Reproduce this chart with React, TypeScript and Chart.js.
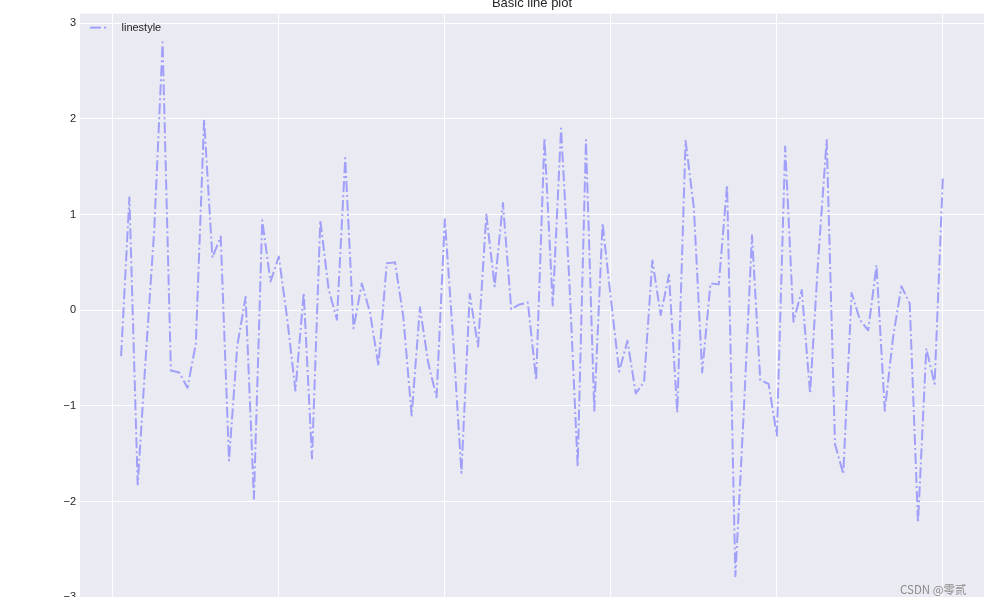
import React, { useEffect, useRef } from "react";
import { Chart, registerables } from "chart.js";

Chart.register(...registerables);

const titleText = "Basic line plot";
const seriesLabel = "linestyle";
const watermarkText = "CSDN @零贰";

const xValues = [
  1, 2, 3, 4, 5, 6, 7, 8, 9, 10,
  11, 12, 13, 14, 15, 16, 17, 18, 19, 20,
  21, 22, 23, 24, 25, 26, 27, 28, 29, 30,
  31, 32, 33, 34, 35, 36, 37, 38, 39, 40,
  41, 42, 43, 44, 45, 46, 47, 48, 49, 50,
  51, 52, 53, 54, 55, 56, 57, 58, 59, 60,
  61, 62, 63, 64, 65, 66, 67, 68, 69, 70,
  71, 72, 73, 74, 75, 76, 77, 78, 79, 80,
  81, 82, 83, 84, 85, 86, 87, 88, 89, 90,
  91, 92, 93, 94, 95, 96, 97, 98, 99, 100,
];

const yValues = [
  -0.48, 1.18, -1.82, -0.45, 0.85, 2.8, -0.63, -0.65, -0.81, -0.35,
  1.99, 0.55, 0.77, -1.57, -0.37, 0.14, -1.97, 0.94, 0.3, 0.56,
  -0.08, -0.84, 0.18, -1.55, 0.94, 0.22, -0.1, 1.59, -0.19, 0.28,
  -0.03, -0.58, 0.49, 0.5, -0.07, -1.1, 0.03, -0.55, -0.91, 0.95,
  -0.3, -1.7, 0.17, -0.38, 1.0, 0.25, 1.12, 0.01, 0.06, 0.08,
  -0.73, 1.8, 0.05, 1.9, 0.3, -1.63, 1.78, -1.05, 0.91, 0.12,
  -0.64, -0.32, -0.87, -0.75, 0.52, -0.05, 0.37, -1.07, 1.77, 1.07,
  -0.65, 0.28, 0.27, 1.31, -2.78, -1.08, 0.78, -0.73, -0.77, -1.31,
  1.71, -0.12, 0.21, -0.87, 0.56, 1.78, -1.4, -1.71, 0.18, -0.1,
  -0.21, 0.47, -1.05, -0.28, 0.25, 0.07, -2.22, -0.4, -0.77, 1.4,
];

const xTicks = [0, 20, 40, 60, 80, 100];
const yTicks = [-3, -2, -1, 0, 1, 2, 3];

const FONT = "'Liberation Sans', Arial, 'DejaVu Sans', sans-serif";
const LINE_COLOR = "#a0a0fa";
const TEXT_COLOR = "#262626";
const BG_COLOR = "#eaeaf2";
const DASH = [11, 3, 2, 3];
const LINE_WIDTH = 2;

const bgPlugin = {
  id: "axesBackground",
  beforeDraw(chart: any) {
    const { ctx, chartArea } = chart;
    if (!chartArea) return;
    ctx.save();
    ctx.fillStyle = BG_COLOR;
    ctx.fillRect(chartArea.left, chartArea.top, chartArea.right - chartArea.left, chartArea.bottom - chartArea.top);
    ctx.restore();
  },
};

// Chart.js resets the top of a vertical legend to 0; put it back inside the plot area.
const legendInsidePlugin = {
  id: "legendInside",
  afterLayout(chart: any) {
    const lg = chart.legend;
    if (!lg || !chart.chartArea) return;
    const h = lg.height;
    lg.top = chart.chartArea.top - 1.5;
    lg.bottom = lg.top + h;
    lg.left = chart.chartArea.left;
  },
};

function makeLegendSample(): HTMLCanvasElement {
  const c = document.createElement("canvas");
  c.width = 26;
  c.height = 4;
  const g = c.getContext("2d");
  if (g) {
    g.strokeStyle = LINE_COLOR;
    g.lineWidth = LINE_WIDTH;
    g.setLineDash(DASH);
    g.beginPath();
    g.moveTo(0, 2);
    g.lineTo(19, 2);
    g.stroke();
  }
  return c;
}

export default function App() {
  const ref = useRef<HTMLCanvasElement>(null);

  useEffect(() => {
    const canvas = ref.current;
    if (!canvas) return;
    const sample = makeLegendSample();
    const chart = new Chart(canvas, {
      type: "line",
      data: {
        datasets: [
          {
            label: seriesLabel,
            data: xValues.map((x, i) => ({ x, y: yValues[i] })),
            borderColor: LINE_COLOR,
            backgroundColor: LINE_COLOR,
            borderWidth: LINE_WIDTH,
            borderDash: DASH,
            borderCapStyle: "butt",
            borderJoinStyle: "round",
            pointRadius: 0,
            tension: 0,
            fill: false,
          },
        ],
      },
      options: {
        animation: false,
        responsive: false,
        devicePixelRatio: 1,
        events: [],
        layout: { padding: { left: 0, right: 0, top: 0, bottom: 17 } },
        scales: {
          x: {
            type: "linear",
            min: -3.95,
            max: 104.95,
            afterBuildTicks: (s: any) => {
              s.ticks = xTicks.map((v) => ({ value: v }));
            },
            ticks: { display: false },
            grid: { color: "#ffffff", lineWidth: 1, drawTicks: false },
            border: { display: false },
            afterFit: (s: any) => {
              s.height = 0;
            },
          },
          y: {
            type: "linear",
            min: -3.06,
            max: 3.1,
            afterBuildTicks: (s: any) => {
              s.ticks = yTicks.map((v) => ({ value: v }));
            },
            ticks: {
              padding: 4,
              color: TEXT_COLOR,
              font: { family: FONT, size: 11 },
              callback: (v: any) => String(v).replace("-", "\u2212"),
            },
            grid: { color: "#ffffff", lineWidth: 1, drawTicks: false },
            border: { display: false },
            afterFit: (s: any) => {
              s.width = 80;
            },
          },
        },
        plugins: {
          title: {
            display: true,
            text: titleText,
            fullSize: false,
            color: TEXT_COLOR,
            font: { family: FONT, size: 13, weight: "normal" },
            padding: { top: 16, bottom: 2 },
          },
          legend: {
            position: "chartArea",
            align: "start",
            labels: {
              usePointStyle: true,
              pointStyle: sample,
              pointStyleWidth: 26,
              padding: 10,
              color: TEXT_COLOR,
              font: { family: FONT, size: 11 },
            },
          },
          tooltip: { enabled: false },
        },
      } as any,
      plugins: [bgPlugin, legendInsidePlugin],
    });
    return () => chart.destroy();
  }, []);

  return (
    <div
      style={{
        position: "fixed",
        left: 0,
        top: 0,
        width: 984,
        height: 597,
        overflow: "hidden",
        background: "#ffffff",
      }}
    >
      <canvas
        ref={ref}
        width={984}
        height={640}
        style={{ position: "absolute", left: 0, top: -20, width: 984, height: 640 }}
      />
      <div
        style={{
          position: "absolute",
          left: 900,
          top: 582,
          fontFamily: "'Noto Sans CJK SC', 'Liberation Sans', sans-serif",
          fontSize: 11.5,
          lineHeight: "14px",
          color: "#8c8c8c",
          whiteSpace: "nowrap",
        }}
      >
        {watermarkText}
      </div>
    </div>
  );
}
